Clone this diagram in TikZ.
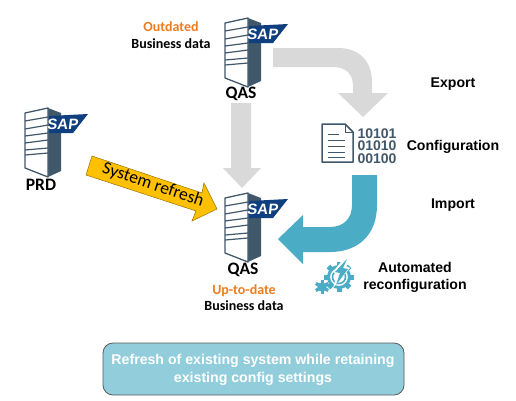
\documentclass[tikz,border=0pt]{standalone}
\usepackage{fontspec}
\setmainfont{Carlito}
\newfontfamily\arialf{Liberation Sans}
\definecolor{slateS}{HTML}{41586A}
\definecolor{sapblue}{HTML}{0F3F7F}
\definecolor{orangeT}{HTML}{ED7D1F}
\definecolor{greyA}{HTML}{D9D9D9}
\definecolor{blueA}{HTML}{4BACC6}
\definecolor{yellowA}{HTML}{FFC000}
\definecolor{boxF}{HTML}{92CDDC}
\tikzset{
  x=1pt,y=-1pt,
  calab/.style={font=\fontsize{14}{16}\selectfont\bfseries,text=black,inner sep=0pt,align=center},
  orlab/.style={font=\fontsize{14}{16}\selectfont\bfseries,text=orangeT,inner sep=0pt},
  syslab/.style={font=\fontsize{17.5}{20}\selectfont\bfseries,text=black,inner sep=0pt},
  arlab/.style={font=\arialf\fontsize{14.1}{17}\selectfont\bfseries,text=black,inner sep=0pt,align=center},
  server/.pic={
    \fill[slateS] (23,0) -- (36,5) -- (36,63) -- (23,69) -- cycle;
    \draw[slateS,line width=1.3pt,fill=white,line join=round] (0,5) -- (23,0) -- (23,69) -- (0,60) -- cycle;
    \foreach \a/\b in {13/9,21/17,28/25,35/32,42/40,47/45}{
      \draw[slateS,line width=1.2pt] (0,\a) -- (23,\b);
    }
    \fill[sapblue] (24,8) -- (63,6) -- (48,25) -- (24,25) -- cycle;
    \node[text=white,inner sep=0pt,font=\arialf\fontsize{15}{16}\selectfont\bfseries,xslant=0.12] at (38,16.5) {SAP};
  }
}
\begin{document}
\begin{tikzpicture}
\useasboundingbox (0,0) rectangle (516,400);
\fill[white] (0,0) rectangle (516,400);

% grey arrows
\fill[greyA] (231,103) -- (251,103) -- (251,168) -- (261,168) -- (242,188) -- (223,168) -- (231,168) -- cycle;
\fill[greyA] (273,48) -- (338,48) .. controls (360,48) and (372,62) .. (372,82) -- (372,93) -- (388,93) -- (363,117) -- (338,93) -- (353,93) -- (353,86) .. controls (353,74) and (346,67) .. (333,67) -- (273,67) -- cycle;

% blue arrow
\fill[blueA] (352,175) -- (377,175) -- (377,205) .. controls (377,235) and (358,252) .. (330,252) -- (303,252) -- (303,264) -- (278,239) -- (303,215) -- (303,227) -- (330,227) .. controls (344,227) and (352,218) .. (352,205) -- cycle;

% servers
\pic at (25,108) {server};
\pic at (225,18) {server};
\pic at (225,193) {server};

% yellow arrow
\draw[yellowA!60!black,fill=yellowA,line width=0.5pt,line join=miter] (92,156) -- (202,193) -- (204,183) -- (217,209) -- (192,221) -- (196,211) -- (86,175) -- cycle;
\node[rotate=-18.5,inner sep=0pt,font=\fontsize{17.6}{20}\selectfont,text=black] (refresh) at (153,185) {System refresh};

% labels
\node[syslab] (prd) at (41,185) {PRD};
\node[syslab] (qas1) at (241,94) {QAS};
\node[syslab] (qas2) at (243,270) {QAS};
\node[orlab] (out) at (171,27) {Outdated};
\node[calab] (bd1) at (171,44) {Business data};
\node[orlab] (utd) at (244,290.5) {Up-to-date};
\node[calab] (bd2) at (244,306) {Business data};
\node[arlab] (exp) at (453,84.5) {Export};
\node[arlab] (conf) at (453,147) {Configuration};
\node[arlab] (imp) at (453,205) {Import};
\node[arlab] (auto) at (415,277) {Automated\\reconfiguration};

% document icon
\draw[slateS,line width=1.5pt,line join=round] (322,124) -- (345,124) -- (353,132) -- (353,162) -- (322,162) -- cycle;
\draw[slateS,line width=1pt] (345,124) -- (345,132) -- (353,132);
\foreach \y/\a in {134/339,140/345,146/345,152/345,157/345}{
  \draw[slateS,line width=1pt] (328,\y) -- (\a,\y);
}
\node[inner sep=0pt,align=left,text=slateS,font=\arialf\fontsize{14}{12.8}\selectfont\bfseries] (bin) at (377,146) {10101\\01010\\00100};

% gear icon
\foreach \r in {0,45,...,315}{
  \fill[blueA,rotate around={\r:(339,277)}] (336.5,262) rectangle (341.5,268);
}
\draw[blueA,line width=3pt] (339,277) circle (10.5);
\draw[blueA,line width=1.6pt] (339,277) circle (6.5);
\fill[white] (344,258) -- (333,272) -- (337,274) -- (333,288) -- (350,268) -- (346,266) -- (352,258) -- cycle;
\fill[blueA] (347,259) -- (335,272) -- (340,273) -- (336,285) -- (348,269) -- (343,268) -- cycle;
\foreach \r in {0,60,...,300}{
  \fill[blueA,rotate around={\r:(322,287)}] (320.5,280) rectangle (323.5,294);
}
\draw[blueA,line width=2pt] (322,287) circle (3.6);

% box
\draw[line width=0.8pt,draw=black!65,fill=boxF,rounded corners=10pt] (103,343) rectangle (404,395);
\node[text=white,inner sep=0pt,align=center,font=\arialf\fontsize{14.15}{17.3}\selectfont\bfseries] (msg) at (253,370) {Refresh of existing system while retaining\\existing config settings};
\end{tikzpicture}
\end{document}
